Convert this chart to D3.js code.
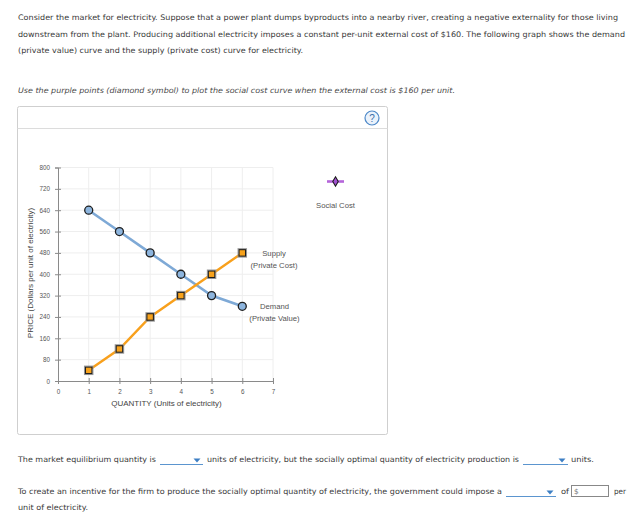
<!DOCTYPE html>
<html>
<head>
<meta charset="utf-8">
<script src="https://cdn.jsdelivr.net/npm/d3@7"></script>
<style>
  html, body { margin: 0; padding: 0; background: #fff; }
  svg { display: block; }
</style>
</head>
<body>
<svg id="chart" width="634" height="515"></svg>
<script>
// ---- Data ----
const quantities = [1, 2, 3, 4, 5, 6];
const demandValues = [640, 560, 480, 400, 320, 280];
const supplyValues = [40, 120, 240, 320, 400, 480];
const xTicks = [0, 1, 2, 3, 4, 5, 6, 7];
const yTicks = [0, 80, 160, 240, 320, 400, 480, 560, 640, 720, 800];
const introLines = [
  "Consider the market for electricity. Suppose that a power plant dumps byproducts into a nearby river, creating a negative externality for those living",
  "downstream from the plant. Producing additional electricity imposes a constant per-unit external cost of $160. The following graph shows the demand",
  "(private value) curve and the supply (private cost) curve for electricity."
];
const instruction = "Use the purple points (diamond symbol) to plot the social cost curve when the external cost is $160 per unit.";

const svg = d3.select("#chart");
const bodyFont = "'DejaVu Sans', Verdana, sans-serif";
const chartFont = "'Liberation Sans', Arial, sans-serif";
const textCol = "#3a3a3a";

// ---- Intro text ----
const introY = [20, 37, 53];
const introW = [600, 607, 285];
introLines.forEach((t, i) => {
  svg.append("text").attr("x", 18).attr("y", introY[i])
    .attr("font-family", bodyFont).attr("font-size", 7.6).attr("fill", textCol)
    .attr("textLength", introW[i]).attr("lengthAdjust", "spacingAndGlyphs")
    .text(t);
});
svg.append("text").attr("x", 18).attr("y", 93)
  .attr("font-family", bodyFont).attr("font-size", 7.6).attr("font-style", "italic").attr("fill", "#4a4a4a")
  .attr("textLength", 437).attr("lengthAdjust", "spacingAndGlyphs")
  .text(instruction);

// ---- Panel ----
svg.append("rect").attr("x", 17.5).attr("y", 106.5).attr("width", 370).attr("height", 328)
  .attr("rx", 2).attr("fill", "#fff").attr("stroke", "#cfcfcf");
svg.append("line").attr("x1", 17.5).attr("x2", 387.5).attr("y1", 128.5).attr("y2", 128.5)
  .attr("stroke", "#dcdcdc");
svg.append("circle").attr("cx", 372).attr("cy", 118).attr("r", 7)
  .attr("fill", "#eaf2fb").attr("stroke", "#4d88c8").attr("stroke-width", 1.2);
svg.append("text").attr("x", 372).attr("y", 121.5).attr("text-anchor", "middle")
  .attr("font-family", chartFont).attr("font-size", 10).attr("fill", "#3a6fa8").text("?");

// ---- Scales ----
const x = d3.scaleLinear().domain([0, 7]).range([58, 273]);
const y = d3.scaleLinear().domain([0, 800]).range([381, 167.5]);

// grid
const g = svg.append("g");
g.selectAll(".vg").data(xTicks.slice(1)).enter().append("line")
  .attr("x1", d => x(d)).attr("x2", d => x(d)).attr("y1", y(800)).attr("y2", y(0))
  .attr("stroke", "#eeeeee");
g.selectAll(".hg").data(yTicks.slice(1)).enter().append("line")
  .attr("x1", x(0)).attr("x2", x(7)).attr("y1", d => y(d)).attr("y2", d => y(d))
  .attr("stroke", "#eeeeee");

// axes
const xAxis = svg.append("g").attr("transform", `translate(0,${y(0)})`)
  .call(d3.axisBottom(x).tickValues(xTicks).tickSize(3).tickPadding(6).tickFormat(d3.format("d")));
const yAxis = svg.append("g").attr("transform", `translate(${x(0)},0)`)
  .call(d3.axisLeft(y).tickValues(yTicks).tickSize(3).tickPadding(5).tickFormat(d3.format("d")));
[xAxis, yAxis].forEach(a => {
  a.select(".domain").attr("stroke", "#8a8a8a");
  a.selectAll(".tick line").attr("stroke", "#8a8a8a");
  a.selectAll(".tick text").attr("font-family", chartFont).attr("font-size", 6.3).attr("fill", "#555");
});
// ticks crossing to the other side
xAxis.selectAll(".tick").append("line").attr("y1", 0).attr("y2", -3).attr("stroke", "#8a8a8a");
yAxis.selectAll(".tick").append("line").attr("x1", 0).attr("x2", 3).attr("stroke", "#8a8a8a");

svg.append("text").attr("x", 166.5).attr("y", 406).attr("text-anchor", "middle")
  .attr("font-family", chartFont).attr("font-size", 8).attr("fill", "#444")
  .text("QUANTITY (Units of electricity)");
svg.append("text").attr("transform", "translate(32.5,273) rotate(-90)").attr("text-anchor", "middle")
  .attr("font-family", chartFont).attr("font-size", 8).attr("fill", "#444")
  .text("PRICE (Dollars per unit of electricity)");

// ---- Curves ----
const demand = quantities.map((q, i) => ({ q, p: demandValues[i] }));
const supply = quantities.map((q, i) => ({ q, p: supplyValues[i] }));
const line = d3.line().x(d => x(d.q)).y(d => y(d.p));

svg.append("path").datum(demand).attr("d", line).attr("fill", "none")
  .attr("stroke", "#7ea9d6").attr("stroke-width", 2.6);
svg.append("path").datum(supply).attr("d", line).attr("fill", "none")
  .attr("stroke", "#f8a01c").attr("stroke-width", 2.4);

svg.selectAll(".dpt").data(demand).enter().append("circle")
  .attr("cx", d => x(d.q)).attr("cy", d => y(d.p)).attr("r", 4)
  .attr("fill", "#8db5de").attr("stroke", "#1e1e1e").attr("stroke-width", 1.3);

const sq = 6.5;
svg.selectAll(".spt-o").data(supply).enter().append("rect")
  .attr("x", d => x(d.q) - sq / 2 - 1).attr("y", d => y(d.p) - sq / 2 - 1)
  .attr("width", sq + 2).attr("height", sq + 2).attr("fill", "none")
  .attr("stroke", "#9a9a9a").attr("stroke-width", 1);
svg.selectAll(".spt").data(supply).enter().append("rect")
  .attr("x", d => x(d.q) - sq / 2).attr("y", d => y(d.p) - sq / 2)
  .attr("width", sq).attr("height", sq).attr("fill", "#f7a21c")
  .attr("stroke", "#1e1e1e").attr("stroke-width", 1.1);

// curve labels
const lab = (tx, ty, t) => svg.append("text").attr("x", tx).attr("y", ty).attr("text-anchor", "middle")
  .attr("font-family", chartFont).attr("font-size", 7.7).attr("fill", "#555").text(t);
lab(274, 256, "Supply");
lab(274, 267.5, "(Private Cost)");
lab(274.5, 309, "Demand");
lab(274.5, 321, "(Private Value)");

// ---- Social cost legend ----
svg.append("line").attr("x1", 327).attr("x2", 344).attr("y1", 181.5).attr("y2", 181.5)
  .attr("stroke", "#b565da").attr("stroke-width", 2.6);
svg.append("path").attr("d", d3.symbol().type(d3.symbolDiamond).size(26)())
  .attr("transform", "translate(335.5,181.5)")
  .attr("fill", "#a04fd0").attr("stroke", "#1e1e1e").attr("stroke-width", 1.1);
lab(335.5, 207.5, "Social Cost");

// ---- Bottom questions ----
const bt = (tx, ty, t, w) => {
  const el = svg.append("text").attr("x", tx).attr("y", ty)
    .attr("font-family", bodyFont).attr("font-size", 7.6).attr("fill", textCol).text(t);
  if (w) el.attr("textLength", w).attr("lengthAdjust", "spacingAndGlyphs");
  return el;
};
const dropdown = (x1, x2, yy) => {
  svg.append("line").attr("x1", x1).attr("x2", x2).attr("y1", yy).attr("y2", yy)
    .attr("stroke", "#5b95cf").attr("stroke-width", 1);
  const ax = x2 - 6;
  svg.append("path").attr("d", `M${ax - 3.5},${yy - 6}L${ax + 3.5},${yy - 6}L${ax},${yy - 2}Z`)
    .attr("fill", "#3d7fc4");
};
bt(18, 462, "The market equilibrium quantity is", 138);
dropdown(160, 203, 464.5);
bt(207, 462, "units of electricity, but the socially optimal quantity of electricity production is", 312);
dropdown(523, 568, 464.5);
bt(571, 462, "units.", 23);

bt(18, 494, "To create an incentive for the firm to produce the socially optimal quantity of electricity, the government could impose a", 484);
dropdown(506, 556, 496.5);
bt(561, 494, "of", 8);
svg.append("rect").attr("x", 571.5).attr("y", 485.5).attr("width", 37).attr("height", 11)
  .attr("fill", "#fff").attr("stroke", "#888");
svg.append("text").attr("x", 574).attr("y", 494).attr("font-family", bodyFont).attr("font-size", 7.4)
  .attr("fill", "#777").text("$");
bt(614, 494, "per", 12);
bt(18, 510, "unit of electricity.", 70);
</script>
</body>
</html>
